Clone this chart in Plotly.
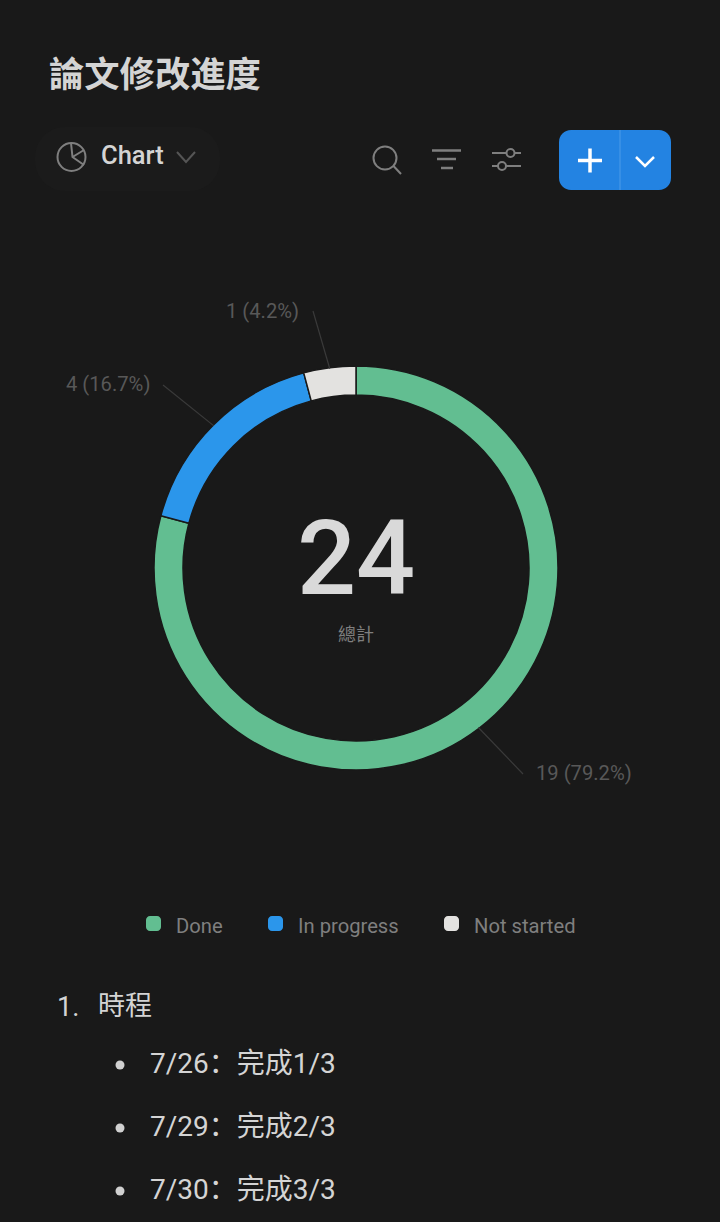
#!/usr/bin/env python3
import math
import plotly.graph_objects as go

WIDTH = 720
HEIGHT = 1222
BG = "#191919"
FONT = "Roboto, 'Noto Sans CJK SC', sans-serif"

TITLE = "論文修改進度"
VIEW_NAME = "Chart"
CATEGORIES = ["Done", "In progress", "Not started"]
VALUES = [19, 4, 1]
COLORS = ["#62BE91", "#2B96EB", "#E3E2E0"]
TOTAL_LABEL = "總計"
LIST_HEAD = "時程"
LIST_ITEMS = ["7/26：完成1/3", "7/29：完成2/3", "7/30：完成3/3"]

# donut placement, in page pixels
CX, CY = 356, 568
R_OUT, R_IN = 202, 173
# where each leader line ends, and where its text sits
LEADER_ENDS = [(523, 774), (163, 385), (313, 311)]
LABEL_POS = [(534, 773, "left"), (152, 384, "right"), (301, 311, "right")]
LEGEND_X = [146, 268, 444]


def px(x):
    return x / WIDTH


def py(y):
    return 1 - y / HEIGHT


def text(x, y, s, size, color, anchor="left", weight=400):
    return dict(text=s, x=px(x), y=py(y), xref="paper", yref="paper", xanchor=anchor, yanchor="middle",
                showarrow=False, font=dict(family=FONT, size=size, color=color, weight=weight))


def line(x0, y0, x1, y1, color, width=2):
    return dict(type="line", xref="paper", yref="paper", x0=px(x0), y0=py(y0), x1=px(x1), y1=py(y1),
                line=dict(color=color, width=width))


def circle(cx, cy, r, line_color=None, fill=None, width=2):
    return dict(type="circle", xref="paper", yref="paper", x0=px(cx - r), x1=px(cx + r), y0=py(cy + r), y1=py(cy - r),
                line=dict(color=line_color or "rgba(0,0,0,0)", width=width if line_color else 0),
                fillcolor=fill or "rgba(0,0,0,0)")


def polyline(points, color, width=2):
    path = "M " + " L ".join(f"{px(x)},{py(y)}" for x, y in points)
    return dict(type="path", xref="paper", yref="paper", path=path, line=dict(color=color, width=width))


def round_rect(x0, y0, x1, y1, r, fill):
    k = 0.45 * r
    pts = [
        ("M", x0 + r, y0), ("L", x1 - r, y0),
        ("C", x1 - k, y0, x1, y0 + k, x1, y0 + r), ("L", x1, y1 - r),
        ("C", x1, y1 - k, x1 - k, y1, x1 - r, y1), ("L", x0 + r, y1),
        ("C", x0 + k, y1, x0, y1 - k, x0, y1 - r), ("L", x0, y0 + r),
        ("C", x0, y0 + k, x0 + k, y0, x0 + r, y0),
    ]
    path = ""
    for p in pts:
        coords = p[1:]
        pairs = [f"{px(coords[i])},{py(coords[i + 1])}" for i in range(0, len(coords), 2)]
        path += p[0] + " " + " ".join(pairs) + " "
    return dict(type="path", xref="paper", yref="paper", path=path + "Z", fillcolor=fill, line=dict(width=0))


total = sum(VALUES)

fig = go.Figure(go.Pie(
    labels=CATEGORIES,
    values=VALUES,
    sort=False,
    direction="clockwise",
    rotation=0,
    hole=R_IN / R_OUT,
    textinfo="none",
    marker=dict(colors=COLORS, line=dict(color=BG, width=1.5)),
    domain=dict(x=[px(CX - R_OUT), px(CX + R_OUT)], y=[py(CY + R_OUT), py(CY - R_OUT)]),
))

annotations = [
    text(47, 75, TITLE, 35.3, "#D4D4D4", weight=700),
    text(99, 155, VIEW_NAME, 25.5, "#D4D4D4", weight=500),
    text(CX, 558, str(total), 104, "#D9D9D9", "center", 500),
    text(CX, 635, TOTAL_LABEL, 18, "#7F7F7F", "center"),
    text(55, 1007, "1.", 27, "#D4D4D4"),
    text(96, 1006, LIST_HEAD, 27, "#D4D4D4"),
]

shapes = [
    round_rect(35, 127, 220, 191, 30, "#1B1B1B"),
    # view icon
    circle(71.5, 157, 14, "#7F7F7F"),
    polyline([(71, 143), (72.5, 157), (84, 165)], "#7F7F7F"),
    polyline([(72.5, 157), (84, 150)], "#7F7F7F"),
    polyline([(177, 152), (186, 162), (195, 152)], "#555555"),
    # search, filter, settings
    circle(385, 158, 11.5, "#7F7F7F"),
    line(393.5, 166, 401, 174, "#7F7F7F"),
    line(432, 150.5, 461, 150.5, "#7F7F7F", 2.5),
    line(437, 159, 456, 159, "#7F7F7F", 2.5),
    line(441, 168, 453, 168, "#7F7F7F", 2.5),
    line(492, 153, 521, 153, "#7F7F7F"),
    line(492, 166, 521, 166, "#7F7F7F"),
    circle(510.5, 153, 4, "#7F7F7F", BG),
    circle(502, 166, 4, "#7F7F7F", BG),
    # new button
    round_rect(559, 130, 671, 190, 12, "#2383E2"),
    line(620, 130, 620, 190, "#4C9BE8", 1),
    line(578, 160.5, 602, 160.5, "#FFFFFF", 3.5),
    line(590, 148.5, 590, 172.5, "#FFFFFF", 3.5),
    polyline([(636, 157), (645, 166), (654, 157)], "#FFFFFF", 2.5),
]

# value labels with leader lines starting at each slice's middle angle
cum = 0
for value, end, pos in zip(VALUES, LEADER_ENDS, LABEL_POS):
    angle = 2 * math.pi * (cum + value / 2) / total
    cum += value
    start = (CX + 201 * math.sin(angle), CY - 201 * math.cos(angle))
    shapes.append(line(start[0], start[1], end[0], end[1], "#3A3A3A", 1.2))
    label = f"{value} ({value / total * 100:.1f}%)"
    annotations.append(text(pos[0], pos[1], label, 20.2, "#585858", pos[2]))

# legend
for name, color, x in zip(CATEGORIES, COLORS, LEGEND_X):
    shapes.append(round_rect(x, 916, x + 15, 931, 4, color))
    annotations.append(text(x + 28, 926, name, 20.2, "#7F7F7F"))

# list below the chart
for i, item in enumerate(LIST_ITEMS):
    y = 1063 + i * 63
    shapes.append(circle(120, y + 2, 4.5, None, "#D0D0D0"))
    annotations.append(text(148, y, item, 28, "#D4D4D4"))

fig.update_layout(
    width=WIDTH,
    height=HEIGHT,
    margin=dict(l=0, r=0, t=0, b=0),
    paper_bgcolor=BG,
    plot_bgcolor=BG,
    showlegend=False,
    shapes=shapes,
    annotations=annotations,
)

fig.write_html("out.html", config=dict(displayModeBar=False),
               post_script="document.body.style.margin='0';document.body.style.background='#191919';")
